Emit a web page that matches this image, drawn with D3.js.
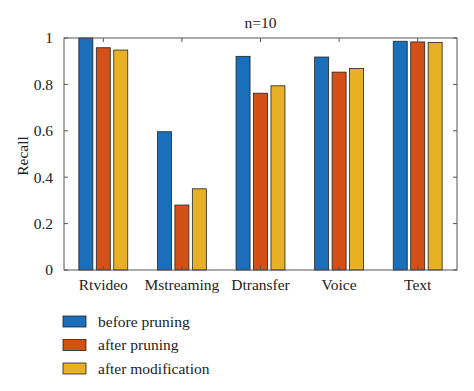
<!doctype html>
<html lang="en">
<head>
    <meta charset="UTF-8">
    <title>recall n=10</title>
    <style>
        body { margin: 0; background: #fff; }
        svg text { font-family: 'Liberation Serif', 'Times New Roman', Times, serif; }
        .frame { fill: none; stroke: #555; stroke-width: 1px; }
        .bar { stroke: #222; stroke-width: 0.8px; }
        .tick-line { stroke: #555; stroke-width: 1px; }
    </style>
</head>
<body>

<svg width="474" height="391"></svg>

<script src="https://d3js.org/d3.v7.min.js"></script>
<script>
  const categories = ['Rtvideo', 'Mstreaming', 'Dtransfer', 'Voice', 'Text']
  const series = ['before pruning', 'after pruning', 'after modification']
  const beforePruning = [1.0, 0.596, 0.921, 0.918, 0.986]
  const afterPruning = [0.958, 0.280, 0.762, 0.853, 0.983]
  const afterModification = [0.948, 0.350, 0.794, 0.869, 0.981]
  const yTicks = [0, 0.2, 0.4, 0.6, 0.8, 1]
  const colors = ['#1b6fba', '#d35019', '#e8b024']

  const values = [beforePruning, afterPruning, afterModification]

  const plot = {left: 64, right: 457, top: 38, bottom: 270}
  const fs = 15.5
  const svg = d3.select('svg')

  // x as MATLAB-style numeric positions 1..5
  const x = d3.scaleLinear().domain([0.5, 5.5]).range([plot.left, plot.right])
  const y = d3.scaleLinear().domain([0, 1]).range([plot.bottom, plot.top])

  const barW = 0.178, step = 0.222

  // bars
  values.forEach((vals, s) => {
    svg.append('g')
      .selectAll('rect')
      .data(vals)
      .enter()
      .append('rect')
      .attr('class', 'bar')
      .attr('x', (d, i) => x(i + 1 + (s - 1) * step - barW / 2))
      .attr('y', d => y(d))
      .attr('width', x(barW) - x(0))
      .attr('height', d => y(0) - y(d))
      .attr('fill', colors[s])
  })

  // frame
  svg.append('rect')
    .attr('class', 'frame')
    .attr('x', plot.left).attr('y', plot.top)
    .attr('width', plot.right - plot.left).attr('height', plot.bottom - plot.top)

  // y ticks (inward both sides)
  const tk = 4
  yTicks.forEach(t => {
    svg.append('line').attr('class', 'tick-line')
      .attr('x1', plot.left).attr('x2', plot.left + tk).attr('y1', y(t)).attr('y2', y(t))
    svg.append('line').attr('class', 'tick-line')
      .attr('x1', plot.right).attr('x2', plot.right - tk).attr('y1', y(t)).attr('y2', y(t))
    svg.append('text')
      .attr('x', plot.left - 11)
      .attr('y', y(t))
      .attr('dy', '0.35em')
      .attr('text-anchor', 'end')
      .attr('font-size', fs)
      .attr('fill', '#222')
      .text(d3.format('~g')(t))
  })

  // x ticks (inward top and bottom) and labels
  categories.forEach((c, i) => {
    svg.append('line').attr('class', 'tick-line')
      .attr('x1', x(i + 1)).attr('x2', x(i + 1)).attr('y1', plot.top).attr('y2', plot.top + tk)
    svg.append('line').attr('class', 'tick-line')
      .attr('x1', x(i + 1)).attr('x2', x(i + 1)).attr('y1', plot.bottom).attr('y2', plot.bottom - tk)
    svg.append('text')
      .attr('x', x(i + 1))
      .attr('y', 290)
      .attr('text-anchor', 'middle')
      .attr('font-size', fs)
      .attr('fill', '#222')
      .text(c)
  })

  // title
  svg.append('text')
    .attr('x', (plot.left + plot.right) / 2)
    .attr('y', 28)
    .attr('text-anchor', 'middle')
    .attr('font-size', fs)
    .attr('fill', '#222')
    .text('n=10')

  // y label
  svg.append('text')
    .attr('transform', 'translate(28,156) rotate(-90)')
    .attr('text-anchor', 'middle')
    .attr('font-size', fs)
    .attr('fill', '#222')
    .text('Recall')

  // legend
  const legend = svg.append('g')
    .selectAll('g')
    .data(series)
    .enter()
    .append('g')
    .attr('transform', (d, i) => `translate(63, ${316 + i * 23.5})`)

  legend.append('rect')
    .attr('class', 'bar')
    .attr('width', 23)
    .attr('height', 11)
    .attr('fill', (d, i) => colors[i])

  legend.append('text')
    .attr('x', 35)
    .attr('y', 5.5)
    .attr('dy', '0.35em')
    .attr('font-size', fs)
    .attr('fill', '#222')
    .text(d => d)
</script>
</body>
</html>
